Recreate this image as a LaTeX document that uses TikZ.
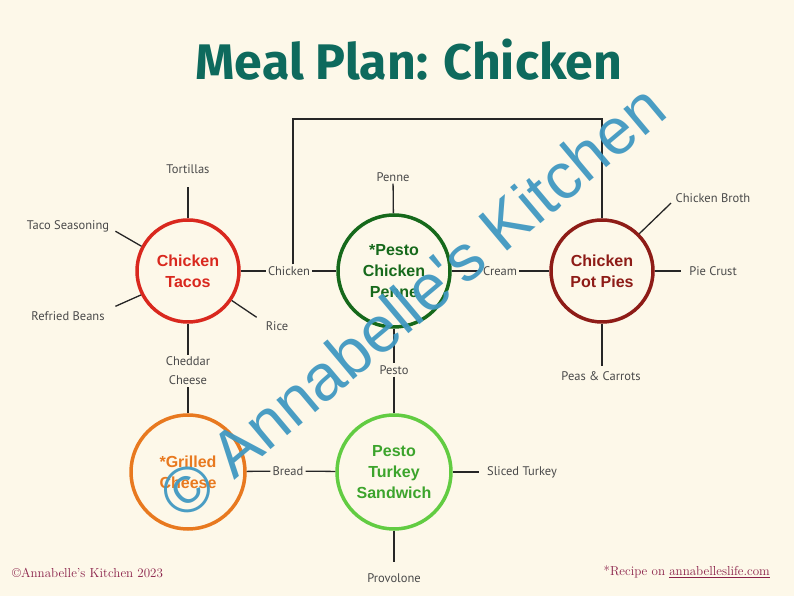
\documentclass[tikz,border=0pt]{standalone}
\usepackage{fontspec}
\newfontfamily\mealfont{Liberation Sans}
\newfontfamily\titlefont{Fira Sans}
\newfontfamily\notefont{PT Sans}
\usetikzlibrary{positioning}

\definecolor{bgcream}{HTML}{FDF8E9}
\definecolor{titleteal}{HTML}{0E6A5D}
\definecolor{inkgray}{HTML}{4A4A4A}
\definecolor{tacored}{HTML}{D9281E}
\definecolor{pennegreen}{HTML}{16691B}
\definecolor{pierred}{HTML}{8E1C17}
\definecolor{cheeseorange}{HTML}{E8791F}
\definecolor{turkeygreen}{HTML}{62CC42}
\definecolor{turkeytext}{HTML}{3CA42C}
\definecolor{footmaroon}{HTML}{8A2049}
\definecolor{markblue}{HTML}{4199C2}

\tikzset{
	meal/.style={circle, draw=#1, line width=3.5pt, inner sep=0pt, align=center,
		font=\mealfont\bfseries\fontsize{16}{21}\selectfont},
	ingr/.style={font=\notefont\fontsize{12.5}{19}\selectfont, text=inkgray,
		inner sep=2pt, align=center},
	link/.style={line width=1.3pt, black!85},
}

\begin{document}
\begin{tikzpicture}[x=1pt, y=1pt]
	\fill[bgcream] (0,0) rectangle (794,596);
	\useasboundingbox (0,0) rectangle (794,596);

	\node[font=\titlefont\bfseries\fontsize{50}{60}\selectfont, text=titleteal] (title) at (409,536) {Meal Plan: Chicken};

	% meals
	\node[meal=tacored, text=tacored, minimum size=102pt] (tacos) at (188,325) {Chicken\\Tacos};
	\node[meal=pennegreen, text=pennegreen, minimum size=112pt] (penne) at (394,325) {*Pesto\\Chicken\\Penne};
	\node[meal=pierred, text=pierred, minimum size=102pt] (potpie) at (602,325) {Chicken\\Pot Pies};
	\node[meal=cheeseorange, text=cheeseorange, minimum size=114pt] (grilled) at (188,124) {*Grilled\\Cheese};
	\node[meal=turkeygreen, text=turkeytext, minimum size=114pt] (turkey) at (394,124) {Pesto\\Turkey\\Sandwich};

	% ingredients
	\node[ingr] (tortillas) at (188,427) {Tortillas};
	\node[ingr] (seasoning) at (68,370) {Taco Seasoning};
	\node[ingr] (beans) at (68,280) {Refried Beans};
	\node[ingr] (rice) at (277,270) {Rice};
	\node[ingr] (chicken) at (289,325) {Chicken};
	\node[ingr] (cheddar) at (188,225) {Cheddar\\Cheese};
	\node[ingr] (pasta) at (393,419) {Penne};
	\node[ingr] (cream) at (500,325) {Cream};
	\node[ingr] (pesto) at (394,226) {Pesto};
	\node[ingr] (broth) at (713,398) {Chicken Broth};
	\node[ingr] (crust) at (713,325) {Pie Crust};
	\node[ingr] (peas) at (601,220) {Peas \& Carrots};
	\node[ingr] (bread) at (288,125) {Bread};
	\node[ingr] (sliced) at (522,124) {Sliced Turkey};
	\node[ingr] (provolone) at (394,18) {Provolone};

	% links
	\draw[link] (tacos.north) -- ++(0,31);
	\draw[link] (tacos.152) -- ++(150:30);
	\draw[link] (tacos.207) -- ++(204:28);
	\draw[link] (tacos.-34) -- ++(-34:30);
	\draw[link] (tacos) -- (chicken) -- (penne);
	\draw[link] (tacos) -- (cheddar) -- (grilled);
	\draw[link] (penne) -- (pasta);
	\draw[link] (penne) -- (cream) -- (potpie);
	\draw[link] (penne) -- (pesto) -- (turkey);
	\draw[link] (potpie.45) -- ++(44:44);
	\draw[link] (potpie.east) -- ++(26,0);
	\draw[link] (potpie.south) -- ++(0,-42);
	\draw[link] (grilled) -- (bread) -- (turkey);
	\draw[link] (turkey.east) -- ++(26,0);
	\draw[link] (turkey.south) -- ++(0,-31);

	\coordinate (corner) at (293,477);
	\draw[link] (chicken.north -| corner) -- (corner) -| (potpie.north);

	% footer
	\node[anchor=west, text=footmaroon, font=\fontsize{13}{15}\selectfont, inner sep=0pt] (copyright) at (12,23) {©Annabelle’s Kitchen \oldstylenums{2023}};
	\node[anchor=east, text=footmaroon, font=\fontsize{13}{15}\selectfont, inner sep=0pt] (recipe) at (770,24) {*Recipe on \underline{annabelleslife.com}};

	% watermark
	\node[text=markblue, opacity=0.95, rotate=40, font=\mealfont\fontsize{65}{70}\selectfont] (mark) at (412,295) {© Annabelle's Kitchen};
\end{tikzpicture}
\end{document}
